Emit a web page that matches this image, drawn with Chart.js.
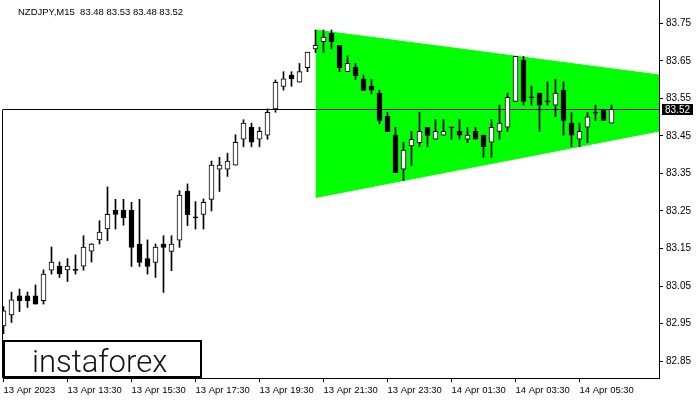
<!DOCTYPE html>
<html>
<head>
<meta charset="utf-8">
<script src="https://cdn.jsdelivr.net/npm/chart.js@4.4.0/dist/chart.umd.min.js"></script>
<style>
  html, body { margin: 0; padding: 0; background: #fff; }
</style>
</head>
<body>
<canvas id="chart" width="700" height="400"></canvas>
<script>
var symbol = 'NZDJPY,M15';

// M15 candles, 13 Apr 11:30 .. 14 Apr 06:30
var opens = [82.944, 82.973, 83.024, 83.024, 83.024, 83.011, 83.092, 83.103, 83.093, 83.093,
  83.103, 83.143, 83.173, 83.202, 83.252, 83.252, 83.252, 83.162, 83.123, 83.113,
  83.162, 83.142, 83.172, 83.303, 83.233, 83.241, 83.281, 83.361, 83.361, 83.372,
  83.441, 83.473, 83.441, 83.452, 83.522, 83.582, 83.612, 83.593, 83.632, 83.682,
  83.701, 83.723, 83.691, 83.621, 83.633, 83.601, 83.583, 83.564, 83.502, 83.452,
  83.361, 83.423, 83.432, 83.473, 83.441, 83.452, 83.473, 83.462, 83.441, 83.462,
  83.452, 83.433, 83.462, 83.473, 83.542, 83.652, 83.553, 83.564, 83.542, 83.532,
  83.572, 83.484, 83.441, 83.473, 83.512, 83.521, 83.484];
var highs = [82.995, 83.034, 83.042, 83.034, 83.053, 83.093, 83.154, 83.114, 83.123, 83.133,
  83.184, 83.163, 83.224, 83.314, 83.281, 83.281, 83.273, 83.281, 83.173, 83.162,
  83.184, 83.184, 83.304, 83.322, 83.275, 83.282, 83.383, 83.393, 83.404, 83.453,
  83.493, 83.484, 83.473, 83.522, 83.599, 83.621, 83.621, 83.643, 83.673, 83.732,
  83.732, 83.732, 83.691, 83.663, 83.643, 83.612, 83.601, 83.572, 83.513, 83.473,
  83.433, 83.462, 83.513, 83.473, 83.493, 83.493, 83.473, 83.493, 83.473, 83.473,
  83.452, 83.493, 83.532, 83.564, 83.662, 83.662, 83.583, 83.564, 83.594, 83.601,
  83.594, 83.512, 83.484, 83.512, 83.532, 83.521, 83.532];
var lows = [82.923, 82.953, 82.982, 82.993, 83.002, 83.002, 83.082, 83.073, 83.062, 83.082,
  83.092, 83.114, 83.162, 83.171, 83.202, 83.212, 83.102, 83.102, 83.082, 83.073,
  83.033, 83.091, 83.153, 83.211, 83.202, 83.202, 83.250, 83.302, 83.342, 83.372,
  83.421, 83.421, 83.421, 83.441, 83.513, 83.572, 83.582, 83.593, 83.621, 83.672,
  83.672, 83.682, 83.621, 83.621, 83.600, 83.571, 83.562, 83.482, 83.461, 83.352,
  83.331, 83.371, 83.421, 83.421, 83.441, 83.452, 83.441, 83.441, 83.432, 83.441,
  83.393, 83.393, 83.441, 83.462, 83.542, 83.532, 83.532, 83.462, 83.532, 83.501,
  83.452, 83.421, 83.421, 83.432, 83.491, 83.491, 83.484];
var closes = [82.984, 83.013, 83.011, 83.011, 83.002, 83.082, 83.114, 83.082, 83.103, 83.093,
  83.154, 83.162, 83.194, 83.241, 83.241, 83.232, 83.153, 83.113, 83.102, 83.154,
  83.153, 83.162, 83.292, 83.240, 83.233, 83.273, 83.372, 83.372, 83.383, 83.433,
  83.484, 83.433, 83.462, 83.513, 83.593, 83.602, 83.602, 83.621, 83.673, 83.691,
  83.713, 83.701, 83.632, 83.643, 83.610, 83.571, 83.572, 83.491, 83.461, 83.352,
  83.412, 83.441, 83.462, 83.451, 83.462, 83.462, 83.473, 83.452, 83.452, 83.441,
  83.421, 83.473, 83.484, 83.553, 83.662, 83.542, 83.553, 83.532, 83.542, 83.564,
  83.491, 83.452, 83.462, 83.501, 83.512, 83.491, 83.521];

// symmetrical triangle pattern (bar index -> price)
var triIdx = [39, 82];
var triUpper = [83.732, 83.612];
var triLower = [83.286, 83.463];

var tickIdx = [0, 8, 16, 24, 32, 40, 48, 56, 64, 72];
var tickLabels = ['13 Apr 2023', '13 Apr 13:30', '13 Apr 15:30', '13 Apr 17:30', '13 Apr 19:30',
  '13 Apr 21:30', '13 Apr 23:30', '14 Apr 01:30', '14 Apr 03:30', '14 Apr 05:30'];
var yTicks = [82.85, 82.95, 83.05, 83.15, 83.25, 83.35, 83.45, 83.55, 83.65, 83.75];

var last = closes.length - 1;
var family = '"Liberation Sans", Arial, sans-serif';

var wicks = [], bodies = [], bodyColors = [];
for (var i = 0; i < opens.length; i++) {
    wicks.push({x: i, y: [lows[i], highs[i]]});
    if (Math.abs(opens[i] - closes[i]) < 0.002) {
        // doji: thin black line
        bodies.push({x: i, y: [opens[i] - 0.0013, opens[i] + 0.0013]});
        bodyColors.push('#000');
    } else {
        bodies.push({x: i, y: [opens[i], closes[i]]});
        bodyColors.push(closes[i] > opens[i] ? '#fff' : '#000');
    }
}

var overlay = {
    id: 'overlay',
    beforeDatasetDraw: function(chart, args) {
        if (args.index !== 2) {
            return;
        }
        // bid line, under the candles
        var ctx = chart.ctx, area = chart.chartArea;
        var py = Math.floor(chart.scales.y.getPixelForValue(closes[last])) + 0.5;
        ctx.save();
        ctx.strokeStyle = '#000';
        ctx.lineWidth = 1;
        ctx.beginPath();
        ctx.moveTo(area.left, py);
        ctx.lineTo(area.right, py);
        ctx.stroke();
        ctx.restore();
    },
    afterDraw: function(chart) {
        var ctx = chart.ctx, area = chart.chartArea;
        var py = Math.floor(chart.scales.y.getPixelForValue(closes[last])) + 0.5;
        ctx.save();
        ctx.strokeStyle = '#000';
        ctx.lineWidth = 1;
        ctx.beginPath();
        ctx.moveTo(area.left - 0.5, py);
        ctx.lineTo(area.left - 0.5, area.bottom);
        ctx.stroke();

        // bid price label
        ctx.fillStyle = '#000';
        ctx.fillRect(area.right + 3, py - 5.5, 31, 11);
        ctx.fillStyle = '#fff';
        ctx.font = '10px ' + family;
        ctx.textBaseline = 'middle';
        ctx.fillText(closes[last].toFixed(2), area.right + 6, py + 0.5);

        // title
        ctx.fillStyle = '#000';
        ctx.font = '9.5px ' + family;
        ctx.fillText(symbol + '  ' + [opens[last], highs[last], lows[last], closes[last]]
            .map(function(v) { return v.toFixed(2); }).join(' '), 18, 12);

        // logo box
        ctx.fillStyle = '#fff';
        ctx.fillRect(4, 341, 197, 36);
        ctx.lineWidth = 2;
        ctx.strokeRect(4, 341, 197, 36);
        ctx.fillStyle = '#111';
        ctx.font = '300 31px Roboto, sans-serif';
        ctx.textBaseline = 'alphabetic';
        ctx.fillText('instaforex', 32, 372, 138);
        ctx.restore();
    }
};

new Chart(document.getElementById('chart'), {
    type: 'bar',
    data: {
        datasets: [{
            type: 'line',
            data: triIdx.map(function(v, k) { return {x: v, y: triUpper[k]}; }),
            fill: 1,
            backgroundColor: '#00ff00',
            borderColor: '#00ff00',
            borderWidth: 1,
            pointRadius: 0,
            order: 3
        }, {
            type: 'line',
            data: triIdx.map(function(v, k) { return {x: v, y: triLower[k]}; }),
            fill: false,
            borderColor: '#00ff00',
            borderWidth: 1,
            pointRadius: 0,
            order: 3
        }, {
            data: wicks,
            backgroundColor: '#000',
            borderWidth: 0,
            barThickness: 1,
            grouped: false,
            order: 1
        }, {
            data: bodies,
            backgroundColor: bodyColors,
            borderColor: '#000',
            borderWidth: 1,
            borderSkipped: false,
            barThickness: 5,
            grouped: false,
            order: 0
        }]
    },
    options: {
        responsive: false,
        animation: false,
        events: [],
        layout: {padding: {left: 3, top: 0, right: 0, bottom: 0}},
        plugins: {legend: {display: false}, tooltip: {enabled: false}},
        scales: {
            x: {
                type: 'linear',
                min: -0.0625,
                max: 81.9375,
                offset: false,
                grid: {offset: false, drawOnChartArea: false, drawTicks: true, tickLength: 4, color: '#000'},
                border: {display: true, color: '#000'},
                afterBuildTicks: function(scale) {
                    scale.ticks = tickIdx.map(function(v) { return {value: v}; });
                },
                afterFit: function(scale) {
                    scale.height = 22;
                    scale.paddingLeft = scale.paddingRight = 0;
                },
                ticks: {
                    autoSkip: false,
                    maxRotation: 0,
                    align: 'start',
                    padding: 3,
                    color: '#000',
                    font: {family: family, size: 9.5},
                    callback: function(v, k) { return tickLabels[k]; }
                }
            },
            y: {
                position: 'right',
                min: 82.805,
                max: 83.812,
                grid: {drawOnChartArea: false, drawTicks: true, tickLength: 4, color: '#000'},
                border: {display: true, color: '#000'},
                afterBuildTicks: function(scale) {
                    scale.ticks = yTicks.map(function(v) { return {value: v}; });
                },
                afterFit: function(scale) {
                    scale.width = 41;
                    scale.paddingTop = scale.paddingBottom = 0;
                },
                ticks: {
                    padding: 3,
                    color: '#000',
                    font: {family: family, size: 10},
                    callback: function(v) { return v.toFixed(2); }
                }
            }
        }
    },
    plugins: [overlay]
});
</script>
</body>
</html>
